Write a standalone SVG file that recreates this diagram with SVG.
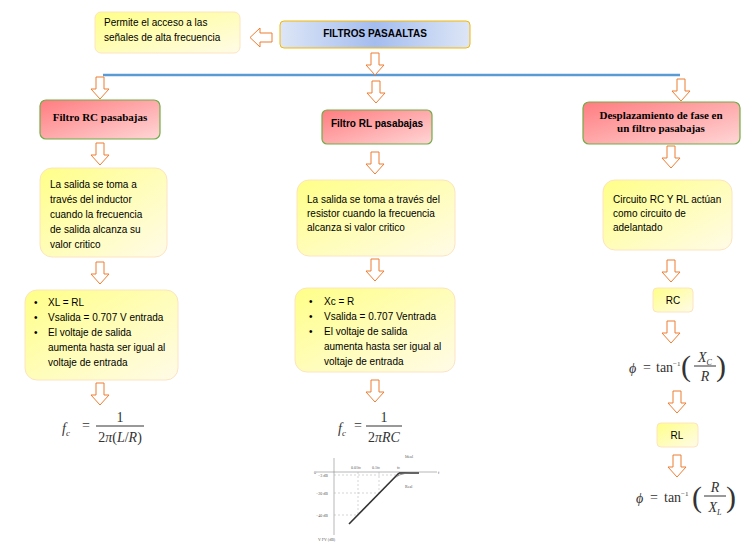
<svg xmlns="http://www.w3.org/2000/svg" width="748" height="552" viewBox="0 0 748 552">
<defs>
<linearGradient id="yel" x1="0" y1="0" x2="1" y2="1"><stop offset="0" stop-color="#ffff88"/><stop offset="1" stop-color="#fffbe8"/></linearGradient>
<linearGradient id="red" x1="0" y1="0" x2="1" y2="1"><stop offset="0" stop-color="#ff7c80"/><stop offset="1" stop-color="#ffd6d6"/></linearGradient>
<linearGradient id="blu" x1="0" y1="0" x2="1" y2="0"><stop offset="0" stop-color="#dde6f6"/><stop offset="0.5" stop-color="#a4bdef"/><stop offset="1" stop-color="#dde6f6"/></linearGradient>
<path id="da" d="M-4,0 h8 v12 h5 l-9,10 l-9,-10 h5 z"/>
</defs>
<style>
.y{fill:url(#yel);stroke:#fde4c0;stroke-width:1}
.r{fill:url(#red);stroke:#70ad47;stroke-width:1.2}
.b{fill:url(#blu);stroke:#f5b800;stroke-width:1}
.t{font-family:"Liberation Sans",Arial,sans-serif;font-size:10px;fill:#000}
.h{font-family:"Liberation Serif",serif;font-size:11px;font-weight:bold;fill:#000}
.a use,.a path{fill:#fff;stroke:#ed7d31;stroke-width:1}
.m{font-family:"Liberation Serif",serif;font-size:14px;fill:#333}
.g{font-family:"Liberation Serif",serif;font-size:4px;fill:#555}
</style>
<rect width="748" height="552" fill="#fff"/>
<g id="connectors" class="a">
<line x1="103" y1="75" x2="680" y2="75" stroke="#5b9bd5" stroke-width="2.5" fill="none"/>
<path d="M272,33 v9 h-12 v5 l-10,-9.5 l10,-9.5 v5 z"/>
<use href="#da" x="375" y="53"/>
<use href="#da" x="100" y="77"/>
<use href="#da" x="376" y="81"/>
<use href="#da" x="681" y="79"/>
<use href="#da" x="100" y="143"/>
<use href="#da" x="375" y="152"/>
<use href="#da" x="671" y="146"/>
<use href="#da" x="100" y="262"/>
<use href="#da" x="375" y="259"/>
<use href="#da" x="671" y="260"/>
<use href="#da" x="100" y="383"/>
<use href="#da" x="375" y="380"/>
<use href="#da" x="671" y="321"/>
<use href="#da" x="677" y="391"/>
<use href="#da" x="677" y="455"/>
</g>
<g id="n-permite"><rect class="y" x="95" y="12" width="145" height="41" rx="6"/>
<text class="t" x="104" y="26">Permite el acceso a las</text><text class="t" x="104" y="41">señales de alta frecuencia</text></g>
<g id="n-filtros"><rect class="b" x="280" y="21" width="190" height="27" rx="4"/>
<text class="t" x="375" y="37" text-anchor="middle" font-weight="bold">FILTROS PASAALTAS</text></g>
<g id="n-rc"><rect class="r" x="40" y="100" width="120" height="39" rx="6"/>
<text class="h" x="100" y="121" text-anchor="middle">Filtro RC pasabajas</text></g>
<g id="n-rl"><rect class="r" x="322" y="110" width="110" height="34" rx="5"/>
<text class="t" x="377" y="127" text-anchor="middle" font-weight="bold">Filtro RL pasabajas</text></g>
<g id="n-desp"><rect class="r" x="583" y="102" width="157" height="42" rx="6"/>
<text class="h" x="661" y="119" text-anchor="middle">Desplazamiento de fase en</text>
<text class="h" x="661" y="132" text-anchor="middle">un filtro pasabajas</text></g>
<g id="n-l2"><rect class="y" x="40" y="168" width="127" height="89" rx="12"/>
<text class="t" x="50" y="188">La salida se toma a</text>
<text class="t" x="50" y="203">través del inductor</text>
<text class="t" x="50" y="218">cuando la frecuencia</text>
<text class="t" x="50" y="233">de salida alcanza su</text>
<text class="t" x="50" y="248">valor critico</text></g>
<g id="n-m2"><rect class="y" x="297" y="180" width="158" height="76" rx="12"/>
<text class="t" x="307" y="203">La salida se toma a través del</text>
<text class="t" x="307" y="217">resistor cuando la frecuencia</text>
<text class="t" x="307" y="231">alcanza si valor critico</text></g>
<g id="n-r2"><rect class="y" x="603" y="180" width="129" height="70" rx="12"/>
<text class="t" x="613" y="203">Circuito RC Y RL actúan</text>
<text class="t" x="613" y="217">como circuito de</text>
<text class="t" x="613" y="231">adelantado</text></g>
<g id="n-l3"><rect class="y" x="25" y="290" width="153" height="90" rx="12"/>
<text class="t" x="34" y="306">•</text><text class="t" x="48" y="306">XL = RL</text>
<text class="t" x="34" y="321">•</text><text class="t" x="48" y="321">Vsalida = 0.707 V entrada</text>
<text class="t" x="34" y="336">•</text><text class="t" x="48" y="336">El voltaje de salida</text>
<text class="t" x="48" y="351">aumenta hasta ser igual al</text>
<text class="t" x="48" y="366">voltaje de entrada</text></g>
<g id="n-m3"><rect class="y" x="295" y="288" width="160" height="84" rx="12"/>
<text class="t" x="309" y="305">•</text><text class="t" x="324" y="305">Xc = R</text>
<text class="t" x="309" y="320">•</text><text class="t" x="324" y="320">Vsalida = 0.707 Ventrada</text>
<text class="t" x="309" y="335">•</text><text class="t" x="324" y="335">El voltaje de salida</text>
<text class="t" x="324" y="350">aumenta hasta ser igual al</text>
<text class="t" x="324" y="365">voltaje de entrada</text></g>
<g id="n-rcbox"><rect class="y" x="653" y="288" width="40" height="24" rx="4"/>
<text class="t" x="673" y="304" text-anchor="middle">RC</text></g>
<g id="n-rlbox"><rect class="y" x="657" y="423" width="41" height="24" rx="4"/>
<text class="t" x="677" y="439" text-anchor="middle">RL</text></g>
<g id="f-left" class="m">
<text x="62" y="433" font-style="italic">f<tspan font-size="9" dy="3">c</tspan></text>
<text x="82" y="430">=</text>
<text x="120" y="422" text-anchor="middle">1</text>
<line x1="96" y1="426" x2="144" y2="426" stroke="#333"/>
<text x="120" y="442" text-anchor="middle">2<tspan font-style="italic">π</tspan>(<tspan font-style="italic">L</tspan>/<tspan font-style="italic">R</tspan>)</text></g>
<g id="f-mid" class="m">
<text x="338" y="433" font-style="italic">f<tspan font-size="9" dy="3">c</tspan></text>
<text x="354" y="430">=</text>
<text x="384" y="422" text-anchor="middle">1</text>
<line x1="366" y1="426" x2="402" y2="426" stroke="#333"/>
<text x="384" y="442" text-anchor="middle">2<tspan font-style="italic">πRC</tspan></text></g>
<g id="f-r1" class="m">
<text x="629" y="373" font-style="italic">ϕ</text>
<text x="643" y="372">=</text>
<text x="656" y="372">tan<tspan font-size="7" dy="-6">−1</tspan></text>
<text x="681" y="376" font-size="30" font-weight="lighter">(</text>
<text x="705" y="362" text-anchor="middle" font-style="italic">X<tspan font-size="8" dy="3">C</tspan></text>
<line x1="694" y1="366" x2="716" y2="366" stroke="#333"/>
<text x="705" y="381" text-anchor="middle" font-style="italic">R</text>
<text x="716" y="376" font-size="30">)</text></g>
<g id="f-r2" class="m">
<text x="636" y="503" font-style="italic">ϕ</text>
<text x="650" y="502">=</text>
<text x="664" y="502">tan<tspan font-size="7" dy="-6">−1</tspan></text>
<text x="692" y="507" font-size="30">(</text>
<text x="715" y="492" text-anchor="middle" font-style="italic">R</text>
<line x1="704" y1="496" x2="726" y2="496" stroke="#333"/>
<text x="715" y="512" text-anchor="middle" font-style="italic">X<tspan font-size="8" dy="3">L</tspan></text>
<text x="726" y="507" font-size="30">)</text></g>
<g id="graph">
<line x1="334" y1="458" x2="334" y2="535" stroke="#888" stroke-width="0.6"/>
<line x1="316" y1="472" x2="437" y2="472" stroke="#888" stroke-width="0.6"/>
<g stroke="#aaa" stroke-width="0.5" stroke-dasharray="2,2">
<line x1="334" y1="475" x2="399" y2="475"/><line x1="334" y1="493" x2="379" y2="493"/><line x1="334" y1="515" x2="358" y2="515"/>
<line x1="358" y1="472" x2="358" y2="515"/><line x1="379" y1="472" x2="379" y2="493"/></g>
<line x1="349" y1="524" x2="399" y2="473" stroke="#333" stroke-width="1.6"/>
<line x1="399" y1="473" x2="419" y2="473" stroke="#333" stroke-width="1.6"/>
<path d="M396,477 Q402,472 419,473" fill="none" stroke="#777" stroke-width="0.8"/>
<text class="g" x="405" y="458">Ideal</text><text class="g" x="405" y="488">Real</text>
<text class="g" x="351" y="469">0.01fc</text><text class="g" x="372" y="469">0.1fc</text><text class="g" x="397" y="469">fc</text>
<text class="g" x="438" y="474">f</text><text class="g" x="314" y="474">0</text>
<text class="g" x="318" y="477">−3 dB</text><text class="g" x="316" y="495">−20 dB</text><text class="g" x="316" y="517">−40 dB</text>
<text class="g" x="318" y="541">V  FV  (dB)</text>
</g>
</svg>
